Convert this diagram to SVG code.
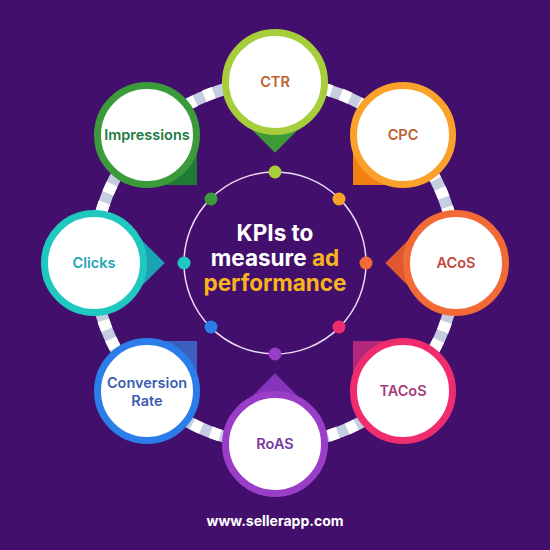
<svg xmlns="http://www.w3.org/2000/svg" width="550" height="550" viewBox="0 0 550 550">
<defs>
<style>
.lbl{font-family:Inter,"Noto Sans","Liberation Sans",sans-serif;font-weight:600;font-size:14.5px;text-anchor:middle}
.ctr{font-family:Inter,"Noto Sans","Liberation Sans",sans-serif;font-weight:700;font-size:22.5px;text-anchor:middle}
.ring{fill:#fff;stroke-width:7}
</style>
<path id="drop" d="M50 0 L50 50 L0 50 A50 50 0 1 1 50 0 Z"/>
</defs>
<rect width="550" height="550" fill="#430f6d"/>
<g id="connectors">
<circle cx="275" cy="263" r="181" fill="none" stroke="#c5cde1" stroke-width="12"/>
<circle cx="275" cy="263" r="181" fill="none" stroke="#ffffff" stroke-width="12" stroke-dasharray="10 10"/>
<circle cx="275" cy="263" r="91" fill="none" stroke="#eadcf5" stroke-width="1.5"/>
</g>
<g id="dots">
<circle cx="275" cy="172" r="6.5" fill="#a6cd3a"/>
<circle cx="339" cy="199" r="6.5" fill="#f9a12b"/>
<circle cx="366" cy="263" r="6.5" fill="#f26a35"/>
<circle cx="339" cy="327" r="6.5" fill="#ef2d6e"/>
<circle cx="275" cy="354" r="6.5" fill="#9a3ec8"/>
<circle cx="211" cy="327" r="6.5" fill="#2b7de9"/>
<circle cx="184" cy="263" r="6.5" fill="#1fc9c0"/>
<circle cx="211" cy="199" r="6.5" fill="#3b9a3a"/>
</g>
<g id="center-title">
<text class="ctr" x="275" y="241" fill="#ffffff">KPIs to</text>
<text class="ctr" x="275" y="266" fill="#ffffff">measure <tspan fill="#f9b31c">ad</tspan></text>
<text class="ctr" x="275" y="291" fill="#f9b31c">performance</text>
</g>
<g id="node-ctr">
<use href="#drop" transform="translate(275 82) rotate(45)" fill="#3d9a36"/>
<circle class="ring" cx="275" cy="82" r="49.5" stroke="#a6cd3a"/>
<text class="lbl" x="275" y="87" fill="#c0602f">CTR</text>
</g>
<g id="node-cpc">
<use href="#drop" transform="translate(403 135) rotate(90)" fill="#f27f12"/>
<circle class="ring" cx="403" cy="135" r="49.5" stroke="#f9a12b"/>
<text class="lbl" x="403" y="140" fill="#c0602f">CPC</text>
</g>
<g id="node-acos">
<use href="#drop" transform="translate(456 263) rotate(135)" fill="#e0582f"/>
<circle class="ring" cx="456" cy="263" r="49.5" stroke="#f26a35"/>
<text class="lbl" x="456" y="268" fill="#c8453b">ACoS</text>
</g>
<g id="node-tacos">
<use href="#drop" transform="translate(403 391) rotate(180)" fill="#b2287c"/>
<circle class="ring" cx="403" cy="391" r="49.5" stroke="#ef2d6e"/>
<text class="lbl" x="403" y="396" fill="#a63a7c">TACoS</text>
</g>
<g id="node-roas">
<use href="#drop" transform="translate(275 444) rotate(225)" fill="#8434b8"/>
<circle class="ring" cx="275" cy="444" r="49.5" stroke="#9a3ec8"/>
<text class="lbl" x="275" y="449" fill="#7a38a2">RoAS</text>
</g>
<g id="node-conversion-rate">
<use href="#drop" transform="translate(147 391) rotate(270)" fill="#3b5fbf"/>
<circle class="ring" cx="147" cy="391" r="49.5" stroke="#2b7de9"/>
<text class="lbl" x="147" y="388" fill="#3a5db0">Conversion</text>
<text class="lbl" x="147" y="406" fill="#3a5db0">Rate</text>
</g>
<g id="node-clicks">
<use href="#drop" transform="translate(94 263) rotate(315)" fill="#1aa3b3"/>
<circle class="ring" cx="94" cy="263" r="49.5" stroke="#1fc9c0"/>
<text class="lbl" x="94" y="268" fill="#22a5b5">Clicks</text>
</g>
<g id="node-impressions">
<use href="#drop" transform="translate(147 135) rotate(0)" fill="#1e7a34"/>
<circle class="ring" cx="147" cy="135" r="49.5" stroke="#3b9a3a"/>
<text class="lbl" x="147" y="140" fill="#207a42">Impressions</text>
</g>
<text x="275" y="526" font-family="Inter,'Noto Sans','Liberation Sans',sans-serif" font-weight="700" font-size="14" fill="#ffffff" text-anchor="middle">www.sellerapp.com</text>
</svg>
